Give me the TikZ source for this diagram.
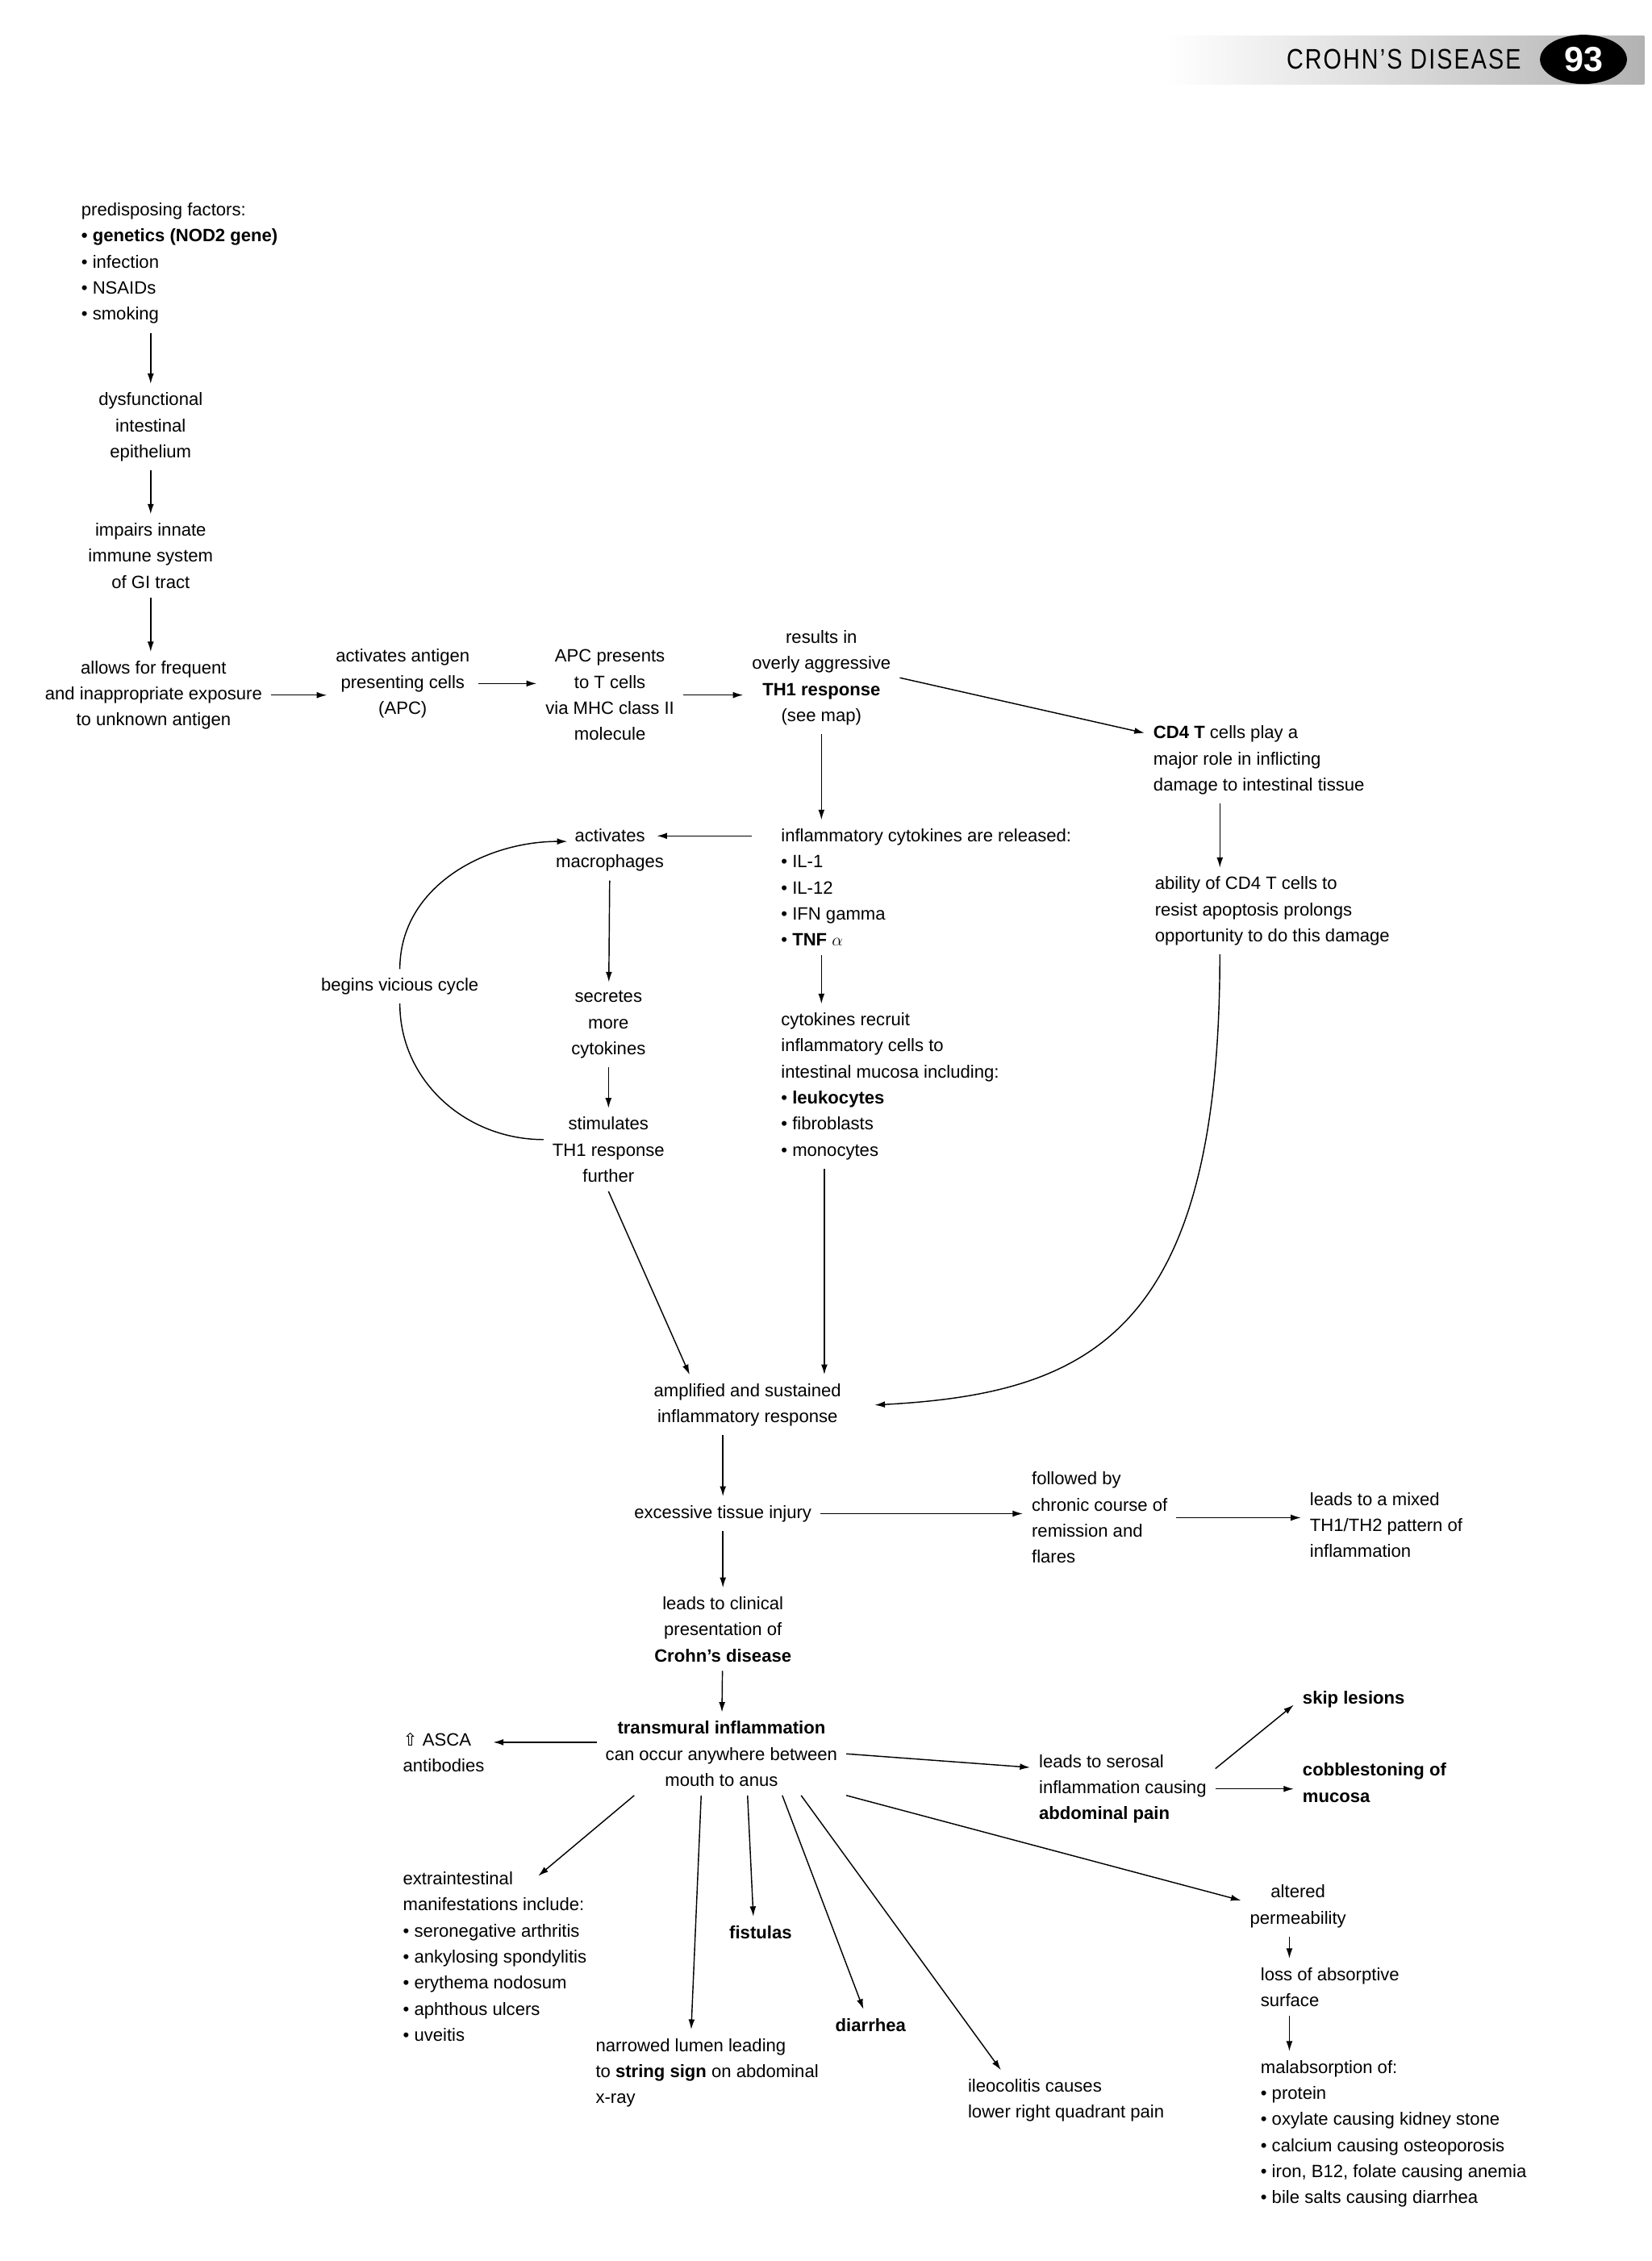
\documentclass[tikz,border=0pt]{standalone}
\usepackage{fontspec}
\setmainfont{Liberation Sans}
\newfontfamily\arrowsym{DejaVu Sans}
\newfontfamily\headfont[FakeStretch=0.82,LetterSpace=6]{Liberation Sans}
\usetikzlibrary{arrows.meta,shapes.geometric}

\begin{document}
\begin{tikzpicture}[
		x=1pt, y=-1pt,
		every node/.style={font=\fontsize{12.3}{18}\selectfont, inner sep=6pt},
		ctext/.style={align=center, anchor=base},
		ltext/.style={align=left, anchor=base west},
		arr/.style={-{Latex[length=7pt,width=4.4pt]}, line width=0.8pt},
		link/.style={line width=0.8pt},
		page title/.style={font=\headfont\fontsize{19.5}{20}\selectfont, inner sep=0pt},
		page badge/.style={ellipse, fill=black, text=white, minimum width=60pt, minimum height=34pt, inner sep=0pt, font=\bfseries\fontsize{24}{24}\selectfont}
	]
		\useasboundingbox (0,0) rectangle (1140.3,1560.7);

		% header
		\shade[left color=white, right color=black!30] (805,25) rectangle (1135,58);
		\node[page title] (title) at (969,41) {CROHN’S DISEASE};
		\node[page badge] (pageno) at (1093,41) {93};

		% nodes are placed at the baseline of their last line
		\node[ltext] (pf) at (50,221) {predisposing factors:\\ \textbf{• genetics (NOD2 gene)}\\ • infection\\ • NSAIDs\\ • smoking};
		\node[ctext] (dys) at (104,316) {dysfunctional\\ intestinal\\ epithelium};
		\node[ctext] (imp) at (104,406) {impairs innate\\ immune system\\ of GI tract};
		\node[ctext] (allow) at (106,501) {allows for frequent\\ and inappropriate exposure\\ to unknown antigen};

		\node[ctext] (apc) at (278,493) {activates antigen\\ presenting cells\\ (APC)};
		\node[ctext] (pres) at (421,511) {APC presents\\ to T cells\\ via MHC class II\\ molecule};
		\node[ctext] (th1) at (567,498) {results in\\ overly aggressive\\ \textbf{TH1 response}\\ (see map)};
		\node[ltext] (cd4) at (790,546) {\textbf{CD4 T} cells play a\\ major role in inflicting\\ damage to intestinal tissue};
		\node[ltext] (abil) at (791,650) {ability of CD4 T cells to\\ resist apoptosis prolongs\\ opportunity to do this damage};

		\node[ltext] (cyt) at (533,653) {inflammatory cytokines are released:\\ • IL-1\\ • IL-12\\ • IFN gamma\\ • \textbf{TNF} $\alpha$};
		\node[ctext] (mac) at (421,599) {activates\\ macrophages};
		\node[ctext] (sec) at (420,728) {secretes\\ more\\ cytokines};
		\node[ctext] (stim) at (420,816) {stimulates\\ TH1 response\\ further};
		\node[ctext] (vic) at (276,684) {begins vicious cycle};
		\node[ltext] (rec) at (533,798) {cytokines recruit\\ inflammatory cells to\\ intestinal mucosa including:\\ • \textbf{leukocytes}\\ • fibroblasts\\ • monocytes};

		\node[ctext] (amp) at (516,982) {amplified and sustained\\ inflammatory response};
		\node[ctext] (exc) at (499,1048) {excessive tissue injury};
		\node[ltext] (fol) at (706,1079) {followed by\\ chronic course of\\ remission and\\ flares};
		\node[ltext] (mix) at (898,1075) {leads to a mixed\\ TH1/TH2 pattern of\\ inflammation};
		\node[ctext] (lead) at (499,1147) {leads to clinical\\ presentation of\\ \textbf{Crohn's disease}};
		\node[ctext] (trans) at (498,1233) {\textbf{transmural inflammation}\\ can occur anywhere between\\ mouth to anus};

		\node[ltext] (asca) at (272,1223) {{\arrowsym\fontsize{12}{18}\selectfont ⇧} ASCA\\ antibodies};
		\node[ltext] (sero) at (711,1256) {leads to serosal\\ inflammation causing\\ \textbf{abdominal pain}};
		\node[ltext] (skip) at (893,1176) {\textbf{skip lesions}};
		\node[ltext] (cob) at (893,1244) {\textbf{cobblestoning of}\\ \textbf{mucosa}};
		\node[ctext] (alt) at (896,1328) {altered\\ permeability};
		\node[ltext] (loss) at (864,1385) {loss of absorptive\\ surface};
		\node[ltext] (mal) at (864,1521) {malabsorption of:\\ • protein\\ • oxylate causing kidney stone\\ • calcium causing osteoporosis\\ • iron, B12, folate causing anemia\\ • bile salts causing diarrhea};
		\node[ltext] (extra) at (272,1409) {extraintestinal\\ manifestations include:\\ • seronegative arthritis\\ • ankylosing spondylitis\\ • erythema nodosum\\ • aphthous ulcers\\ • uveitis};
		\node[ltext] (narrow) at (405,1452) {narrowed lumen leading\\ to \textbf{string sign} on abdominal\\ x-ray};
		\node[ctext] (fist) at (525,1338) {\textbf{fistulas}};
		\node[ctext] (diar) at (601,1402) {\textbf{diarrhea}};
		\node[ltext] (ileo) at (662,1462) {ileocolitis causes\\ lower right quadrant pain};

		\coordinate (cdx) at ([xshift=-27pt]cd4.south);
		\coordinate (ampr) at ([xshift=53pt]amp.north);
		\coordinate (ampl) at ([xshift=-40pt]amp.north);
		\coordinate (ampe) at ([xshift=17pt]amp.east);
		\coordinate (mact) at ([xshift=14pt,yshift=6pt]mac.west);
		\coordinate (cyts) at ([xshift=-14pt,yshift=76pt]cyt.base west);
		\coordinate (macs) at (cyts -| mac.east);
		\coordinate (altx) at ([xshift=-6pt]alt.south);

		\draw[arr] (pf.south -| dys.north) -- (dys.north);
		\foreach \a/\b in {dys/imp, imp/allow} {
			\draw[arr] (\a.south) -- (\a.south |- \b.north);
		}
		\foreach \a/\b in {allow/apc, apc/pres, pres/th1} {
			\draw[arr] (\a.east) -- (\a.east -| \b.west);
		}
		\draw[arr] (th1.east) -- ([yshift=40pt]cd4.base west);
		\draw[arr] (th1.south) -- (th1.south |- cyt.north);
		\draw[arr] (cdx) -- (cdx |- abil.north);
		\draw[arr] (abil.south -| cdx) .. controls +(0,260) and +(150,-8) .. (ampe);

		\draw[arr] (cyts) -- ([xshift=-11pt]macs);
		\draw[arr] (mac) -- (sec);
		\draw[arr] (sec) -- (stim);
		\draw[arr] (vic.north) to[out=90, in=180] (mact);
		\draw[link] (vic.south) to[out=-90, in=180] ([yshift=7pt]stim.west);
		\draw[arr] (cyt.south -| th1.south) -- (th1.south |- rec.north);

		\draw[arr] (rec.south -| ampr) -- (ampr);
		\draw[arr] (stim.south) -- (ampl);
		\draw[arr] (amp.south -| exc.north) -- (exc.north);
		\foreach \a/\b in {exc/fol, fol/mix} {
			\draw[arr] (\a.east) -- (\a.east -| \b.west);
		}
		\draw[arr] (exc) -- (lead);
		\draw[arr] (lead) -- (trans);

		\draw[arr] ([yshift=8pt]trans.west) -- ([yshift=8pt]trans.west -| asca.east);
		\draw[arr] (trans.east) -- ([yshift=36pt]sero.base west);
		\draw[arr] ([yshift=14pt]sero.east) -- ([yshift=-4pt]skip.west);
		\draw[arr] (sero.east) -- (sero.east -| cob.west);
		\draw[arr] (trans.south east) -- ([yshift=4pt]alt.west);
		\draw[arr] (alt.south -| altx) -- (loss.north -| altx);
		\draw[arr] (loss.south -| altx) -- (mal.north -| altx);
		\draw[arr] ([xshift=26pt]trans.south west) -- ([xshift=30pt,yshift=-9pt]extra.north);
		\foreach \s/\t/\e in {-14/narrow/-11, 18/fist/-5, 42/diar/-5, 55/ileo/-45} {
			\draw[arr] ([xshift=\s pt]trans.south) -- ([xshift=\e pt]\t.north);
		}

	\end{tikzpicture}
\end{document}
